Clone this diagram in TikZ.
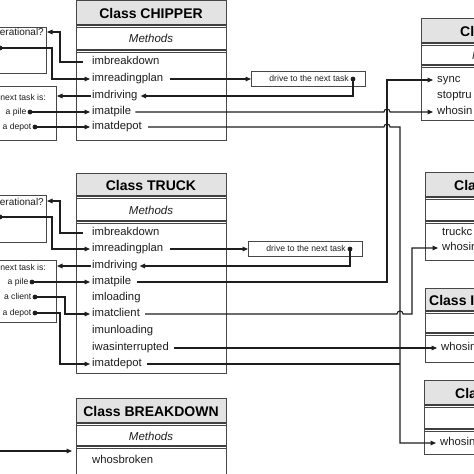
\documentclass[tikz,border=0pt]{standalone}
\usepackage{fontspec}
\setmainfont{Liberation Sans}
\usetikzlibrary{arrows.meta}
\definecolor{ln}{HTML}{1E1E1E}
\definecolor{bx}{HTML}{474747}
\definecolor{band}{HTML}{E3E3E3}
\tikzset{
  conn/.style={draw=ln, line width=1.1pt},
  arr/.style={conn, -{Triangle[length=5.5pt,width=4.6pt]}},
  dotc/.style={circle, fill=ln, inner sep=0pt, minimum size=4.8pt},
  meth/.style={anchor=west, inner sep=0pt, font=\fontsize{11.3}{13}\selectfont, text height=8pt, text depth=2.2pt, text=ln},
  ttl/.style={inner sep=0pt, font=\fontsize{14}{16}\selectfont\bfseries, text=black},
  mhd/.style={inner sep=0pt, font=\fontsize{11.5}{13}\selectfont\itshape, text=ln},
  small/.style={inner sep=0pt, font=\fontsize{8.6}{10}\selectfont, text height=6pt, text depth=1.8pt, text=ln},
  smallb/.style={inner sep=0pt, font=\fontsize{10}{11}\selectfont, text height=6.5pt, text depth=1.8pt, text=ln},
  lbox/.style={draw=bx, line width=0.9pt, fill=white, inner sep=0pt},
  boxline/.style={draw=bx, line width=0.9pt},
  sepa/.style={draw=ln!85, line width=1.2pt},
  sepb/.style={draw=bx, line width=0.7pt},
}
\newcommand\classbox[6]{%
  \fill[white] (#1,#3) rectangle (#2,#6);
  \fill[band] (#1,#3) rectangle (#2,#4);
  \draw[sepa] (#1,#4) -- (#2,#4);
  \draw[sepb] (#1,#4+2.5) -- (#2,#4+2.5);
  \draw[sepa] (#1,#5) -- (#2,#5);
  \draw[sepb] (#1,#5+2.5) -- (#2,#5+2.5);
  \draw[boxline] (#1,#3) rectangle (#2,#6);
}
\begin{document}
\begin{tikzpicture}[x=1pt, y=-1pt]
\useasboundingbox (0,0) rectangle (474,474);
\clip (0,0) rectangle (474,474);
\fill[white] (0,0) rectangle (474,474);

% ---------------- class boxes ----------------
\classbox{76}{226}{0.8}{25}{50}{140}
\node[ttl] (tc) at (151,13.5) {Class CHIPPER};
\node[mhd] (mc) at (151,38.5) {Methods};
\node[meth] (c1) at (92,62) {imbreakdown};
\node[meth] (c2) at (92,79) {imreadingplan};
\node[meth] (c3) at (92,96) {imdriving};
\node[meth] (c4) at (92,112) {imatpile};
\node[meth] (c5) at (92,127) {imatdepot};

\classbox{76}{226}{173}{196}{221}{373}
\node[ttl] (tt) at (151,185) {Class TRUCK};
\node[mhd] (mt) at (151,210) {Methods};
\node[meth] (t1) at (92,233) {imbreakdown};
\node[meth] (t2) at (92,249) {imreadingplan};
\node[meth] (t3) at (92,266) {imdriving};
\node[meth] (t4) at (92,282) {imatpile};
\node[meth] (t5) at (92,298) {imloading};
\node[meth] (t6) at (92,314) {imatclient};
\node[meth] (t7) at (92,331) {imunloading};
\node[meth] (t8) at (92,348) {iwasinterrupted};
\node[meth] (t9) at (92,364) {imatdepot};

\classbox{76}{226}{398}{423}{446}{490}
\node[ttl] (tb) at (151,411) {Class BREAKDOWN};
\node[mhd] (mb) at (151,436) {Methods};
\node[meth] (b1) at (92,461) {whosbroken};

\classbox{421}{600}{18}{43}{65}{120}
\node[ttl, anchor=west] (tr1) at (460,31) {Class};
\node[mhd, anchor=west] (mr1) at (472,55.5) {Methods};
\node[meth] (r1a) at (437,80) {sync};
\node[meth] (r1b) at (437,96) {stoptru};
\node[meth] (r1c) at (437,112) {whosin};

\classbox{425}{600}{172}{197}{221}{260}
\node[ttl, anchor=west] (tr2) at (454,185) {Class};
\node[meth] (r2a) at (442,233) {truckc};
\node[meth] (r2b) at (442,248) {whosin};

\classbox{425}{600}{288}{311}{333}{362}
\node[ttl, anchor=west] (tr3) at (429,300) {Class I};
\node[meth] (r3a) at (441,348) {whosin};

\classbox{424}{600}{380}{405}{429}{454}
\node[ttl, anchor=west] (tr4) at (455,393) {Class};
\node[meth] (r4a) at (440,443) {whosin};

% ---------------- chipper side boxes ----------------
\node[lbox, minimum width=60pt, minimum height=46pt, anchor=north east] (cA) at (47,27) {};
\node[smallb, anchor=east] (cAt) at (44,33) {operational?};
\node[dotc] (cAd) at (0,48) {};

\node[lbox, minimum width=70pt, minimum height=54pt, anchor=north east] (cB) at (57,86) {};
\node[small, anchor=east] (cBt) at (46,98) {next task is:};
\node[small, anchor=east] (cBp) at (26.5,112) {a pile};
\node[dotc] (cBd1) at (30,112) {};
\node[small, anchor=east] (cBq) at (31.5,127) {a depot};
\node[dotc] (cBd2) at (35,127) {};

\node[lbox, minimum width=114pt, minimum height=15pt, anchor=west] (cdr) at (251,79) {};
\node[small, anchor=east] (cdrt) at (349,79) {drive to the next task};
\node[dotc] (cdrd) at (353,79) {};

% ---------------- truck side boxes ----------------
\node[lbox, minimum width=60pt, minimum height=47pt, anchor=north east] (tA) at (47,195) {};
\node[smallb, anchor=east] (tAt) at (44,203) {operational?};
\node[dotc] (tAd) at (0,217) {};

\node[lbox, minimum width=70pt, minimum height=62pt, anchor=north east] (tB) at (57,260) {};
\node[small, anchor=east] (tBt) at (46,268) {next task is:};
\node[small, anchor=east] (tBp) at (28.5,282) {a pile};
\node[dotc] (tBd1) at (32,282) {};
\node[small, anchor=east] (tBc) at (31.5,297) {a client};
\node[dotc] (tBd2) at (35,297) {};
\node[small, anchor=east] (tBq) at (31.5,313) {a depot};
\node[dotc] (tBd3) at (35,313) {};

\node[lbox, minimum width=114pt, minimum height=15pt, anchor=west] (tdr) at (248,249) {};
\node[small, anchor=east] (tdrt) at (346,249) {drive to the next task};
\node[dotc] (tdrd) at (350,249) {};

% ---------------- chipper connectors ----------------
\draw[arr] ([xshift=-9pt]c1.west) -- (60,62) -- (60,32) -- ([yshift=-5pt]cA.north east);
\draw[arr] (cAd.center) -- (52,48) -- (52,79) -- ([xshift=-2pt]c2.west);
\draw[arr] ([xshift=7pt]c2.east) -- (cdr.west);
\draw[arr] (cdrd.center) -- (353,96) -- ([xshift=3pt]c3.east);
\draw[arr] ([xshift=-1pt]c3.west) -- (c3.west -| cB.east);
\draw[arr] (cBd1.center) -- ([xshift=-2pt]c4.west);
\draw[arr] (cBd2.center) -- ([xshift=-2pt]c5.west);
\draw[arr] ([xshift=4pt]c4.east) -- (384,112) arc[start angle=180, end angle=0, radius=3pt] -- ([xshift=-4pt]r1c.west);
\draw[arr] ([xshift=6pt]c5.east) -- (384,127) arc[start angle=180, end angle=0, radius=3pt] -- (400,127) -- (400,443) -- ([xshift=-4pt]r4a.west);

% ---------------- truck connectors ----------------
\draw[arr] ([xshift=-9pt]t1.west) -- (60,233) -- (60,201) -- ([yshift=-6pt]tA.north east);
\draw[arr] (tAd.center) -- (52,217) -- (52,249) -- ([xshift=-2pt]t2.west);
\draw[arr] ([xshift=7pt]t2.east) -- (tdr.west);
\draw[arr] (tdrd.center) -- (350,266) -- ([xshift=2pt]t3.east);
\draw[arr] ([xshift=-1pt]t3.west) -- (t3.west -| tB.east);
\draw[arr] (tBd1.center) -- ([xshift=-2pt]t4.west);
\draw[arr] (tBd2.center) -- (65,297) -- (65,314) -- ([xshift=-2pt]t6.west);
\draw[arr] (tBd3.center) -- (60,313) -- (60,364) -- ([xshift=-2pt]t9.west);
\draw[arr] ([xshift=6pt]t4.east) -- (387,282) -- (387,80) -- ([xshift=-4pt]r1a.west);
\draw[arr] ([xshift=5pt]t6.east) -- (397,314) arc[start angle=180, end angle=0, radius=3pt] -- (412,314) -- (412,248) -- ([xshift=-4pt]r2b.west);
\draw[arr] ([xshift=5pt]t8.east) -- ([xshift=-4pt]r3a.west);
\draw[conn] ([xshift=5pt]t9.east) -- (400,364);

% ---------------- breakdown connector ----------------
\coordinate (bin) at (-2,451);
\coordinate (bend) at (72,451);
\draw[arr] (bin) -- (bend);
\end{tikzpicture}
\end{document}
